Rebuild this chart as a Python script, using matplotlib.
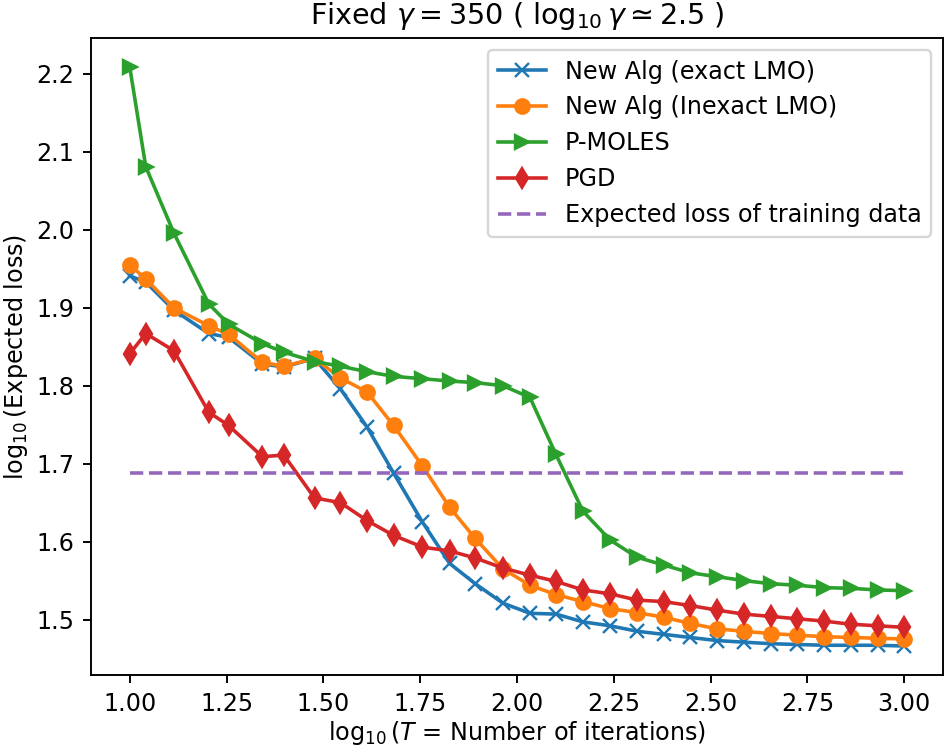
import numpy as np
import matplotlib
matplotlib.use("Agg")
import matplotlib.pyplot as plt

T_values = [10, 11, 13, 16, 18, 22, 25, 30, 35, 41, 48, 57, 67, 78, 92, 108, 126,
            148, 174, 204, 239, 280, 329, 385, 452, 529, 621, 727, 853, 1000]

exact_lmo = [1.941, 1.933, 1.897, 1.867, 1.862, 1.828, 1.824, 1.835, 1.796, 1.747,
             1.688, 1.625, 1.572, 1.546, 1.521, 1.508, 1.507, 1.497, 1.492, 1.485,
             1.481, 1.477, 1.473, 1.471, 1.469, 1.468, 1.467, 1.467, 1.467, 1.466]
inexact_lmo = [1.955, 1.937, 1.900, 1.877, 1.866, 1.830, 1.825, 1.835, 1.810, 1.792,
               1.749, 1.697, 1.644, 1.604, 1.565, 1.544, 1.532, 1.523, 1.514, 1.509,
               1.503, 1.495, 1.488, 1.485, 1.482, 1.480, 1.478, 1.477, 1.476, 1.475]
p_moles = [2.209, 2.081, 1.996, 1.905, 1.879, 1.854, 1.843, 1.831, 1.825, 1.818,
           1.812, 1.809, 1.806, 1.804, 1.800, 1.785, 1.712, 1.639, 1.602, 1.580,
           1.570, 1.560, 1.555, 1.550, 1.546, 1.544, 1.541, 1.540, 1.538, 1.537]
pgd = [1.841, 1.867, 1.845, 1.766, 1.749, 1.709, 1.711, 1.656, 1.650, 1.627,
       1.608, 1.593, 1.588, 1.579, 1.566, 1.557, 1.549, 1.538, 1.533, 1.525,
       1.523, 1.518, 1.512, 1.507, 1.504, 1.501, 1.498, 1.494, 1.492, 1.490]
training_loss = 1.688

x = np.log10(np.array(T_values, dtype=float))

W, H, DPI = 946, 748, 172
fig = plt.figure(figsize=(W / DPI, H / DPI), dpi=DPI)
ax = fig.add_axes([91 / W, 1 - 675 / H, (943 - 91) / W, (675 - 38) / H])

ax.plot(x, exact_lmo, marker='x', color='C0', label='New Alg (exact LMO)')
ax.plot(x, inexact_lmo, marker='o', color='C1', label='New Alg (Inexact LMO)')
ax.plot(x, p_moles, marker='>', color='C2', label='P-MOLES')
ax.plot(x, pgd, marker='d', color='C3', label='PGD')
ax.plot(x, [training_loss] * len(x), '--', color='C4',
        label='Expected loss of training data')

ax.set_title(r'Fixed $\gamma = 350$ ( $\log_{10}\gamma \simeq 2.5$ )')
ax.set_xlabel(r'$\log_{10}$($T$ = Number of iterations)', labelpad=1.5)
ax.set_ylabel(r'$\log_{10}$(Expected loss)', labelpad=2.5)
ax.legend(loc='upper right')

fig.savefig('out.png', dpi=DPI)
